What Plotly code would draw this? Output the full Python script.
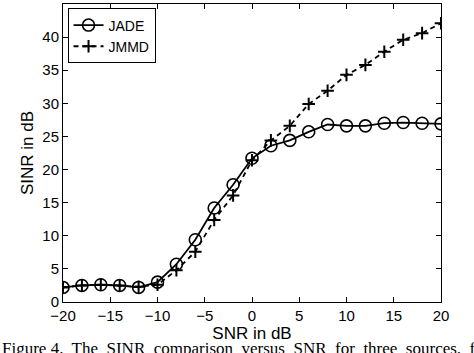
import plotly.graph_objects as go

snr = [-20, -18, -16, -14, -12, -10, -8, -6, -4, -2, 0, 2, 4, 6, 8, 10, 12, 14, 16, 18, 20]
jade = [2.2, 2.5, 2.6, 2.5, 2.2, 3.0, 5.7, 9.4, 14.2, 17.7, 21.7, 23.6, 24.4, 25.7, 26.8, 26.6, 26.6, 27.0, 27.1, 27.0, 26.9]
jmmd = [2.2, 2.5, 2.6, 2.5, 2.3, 2.6, 4.8, 7.6, 12.4, 16.1, 21.4, 24.4, 26.6, 29.9, 31.9, 34.3, 35.8, 37.8, 39.6, 40.6, 42.1]
xticks = [-20, -15, -10, -5, 0, 5, 10, 15, 20]
yticks = [0, 5, 10, 15, 20, 25, 30, 35, 40, 45]
caption = "Figure 4.  The  SINR  comparison  versus  SNR  for  three  sources.  fr"

fig = go.Figure()
fig.add_trace(go.Scatter(
    x=snr, y=jade, name="JADE", mode="lines+markers",
    line=dict(color="black", width=1.8),
    marker=dict(symbol="circle-open", size=12, color="black", line=dict(width=1.6)),
))
fig.add_trace(go.Scatter(
    x=snr, y=jmmd, name="JMMD", mode="lines+markers",
    line=dict(color="black", width=1.8, dash="5px,4px"),
    marker=dict(symbol="cross-thin-open", size=9, color="black", line=dict(width=2, color="black")),
))

font_main = "Liberation Sans, Arial"
axis_common = dict(
    showgrid=False, zeroline=False, showline=True, linecolor="black", linewidth=1,
    mirror="ticks", ticks="inside", ticklen=5, tickcolor="black",
    tickfont=dict(family=font_main, size=15, color="black"),
)
fig.update_xaxes(range=[-20, 20], tickvals=xticks, ticktext=[str(v).replace("-", "\u2212") for v in xticks],
                 title=dict(text="SNR in dB", font=dict(family=font_main, size=17, color="black"), standoff=2),
                 **axis_common)
fig.update_yaxes(range=[0, 45], tickvals=yticks,
                 title=dict(text="SINR in dB", font=dict(family=font_main, size=17, color="black"), standoff=4),
                 **axis_common)

fig.add_annotation(text=caption, xref="paper", yref="paper", x=-63/378, y=(302-337)/298,
                   xanchor="left", yanchor="top", showarrow=False,
                   font=dict(family="Liberation Serif, Times New Roman", size=17, color="black"))

fig.update_layout(
    width=474, height=353,
    margin=dict(l=63, r=33, t=4, b=51),
    plot_bgcolor="white", paper_bgcolor="white",
    showlegend=True,
    legend=dict(x=0.012, y=0.985, xanchor="left", yanchor="top",
                bordercolor="black", borderwidth=1, bgcolor="white",
                font=dict(family=font_main, size=14, color="black"),
                tracegroupgap=0, itemwidth=30),
)
fig.write_html("out.html")
